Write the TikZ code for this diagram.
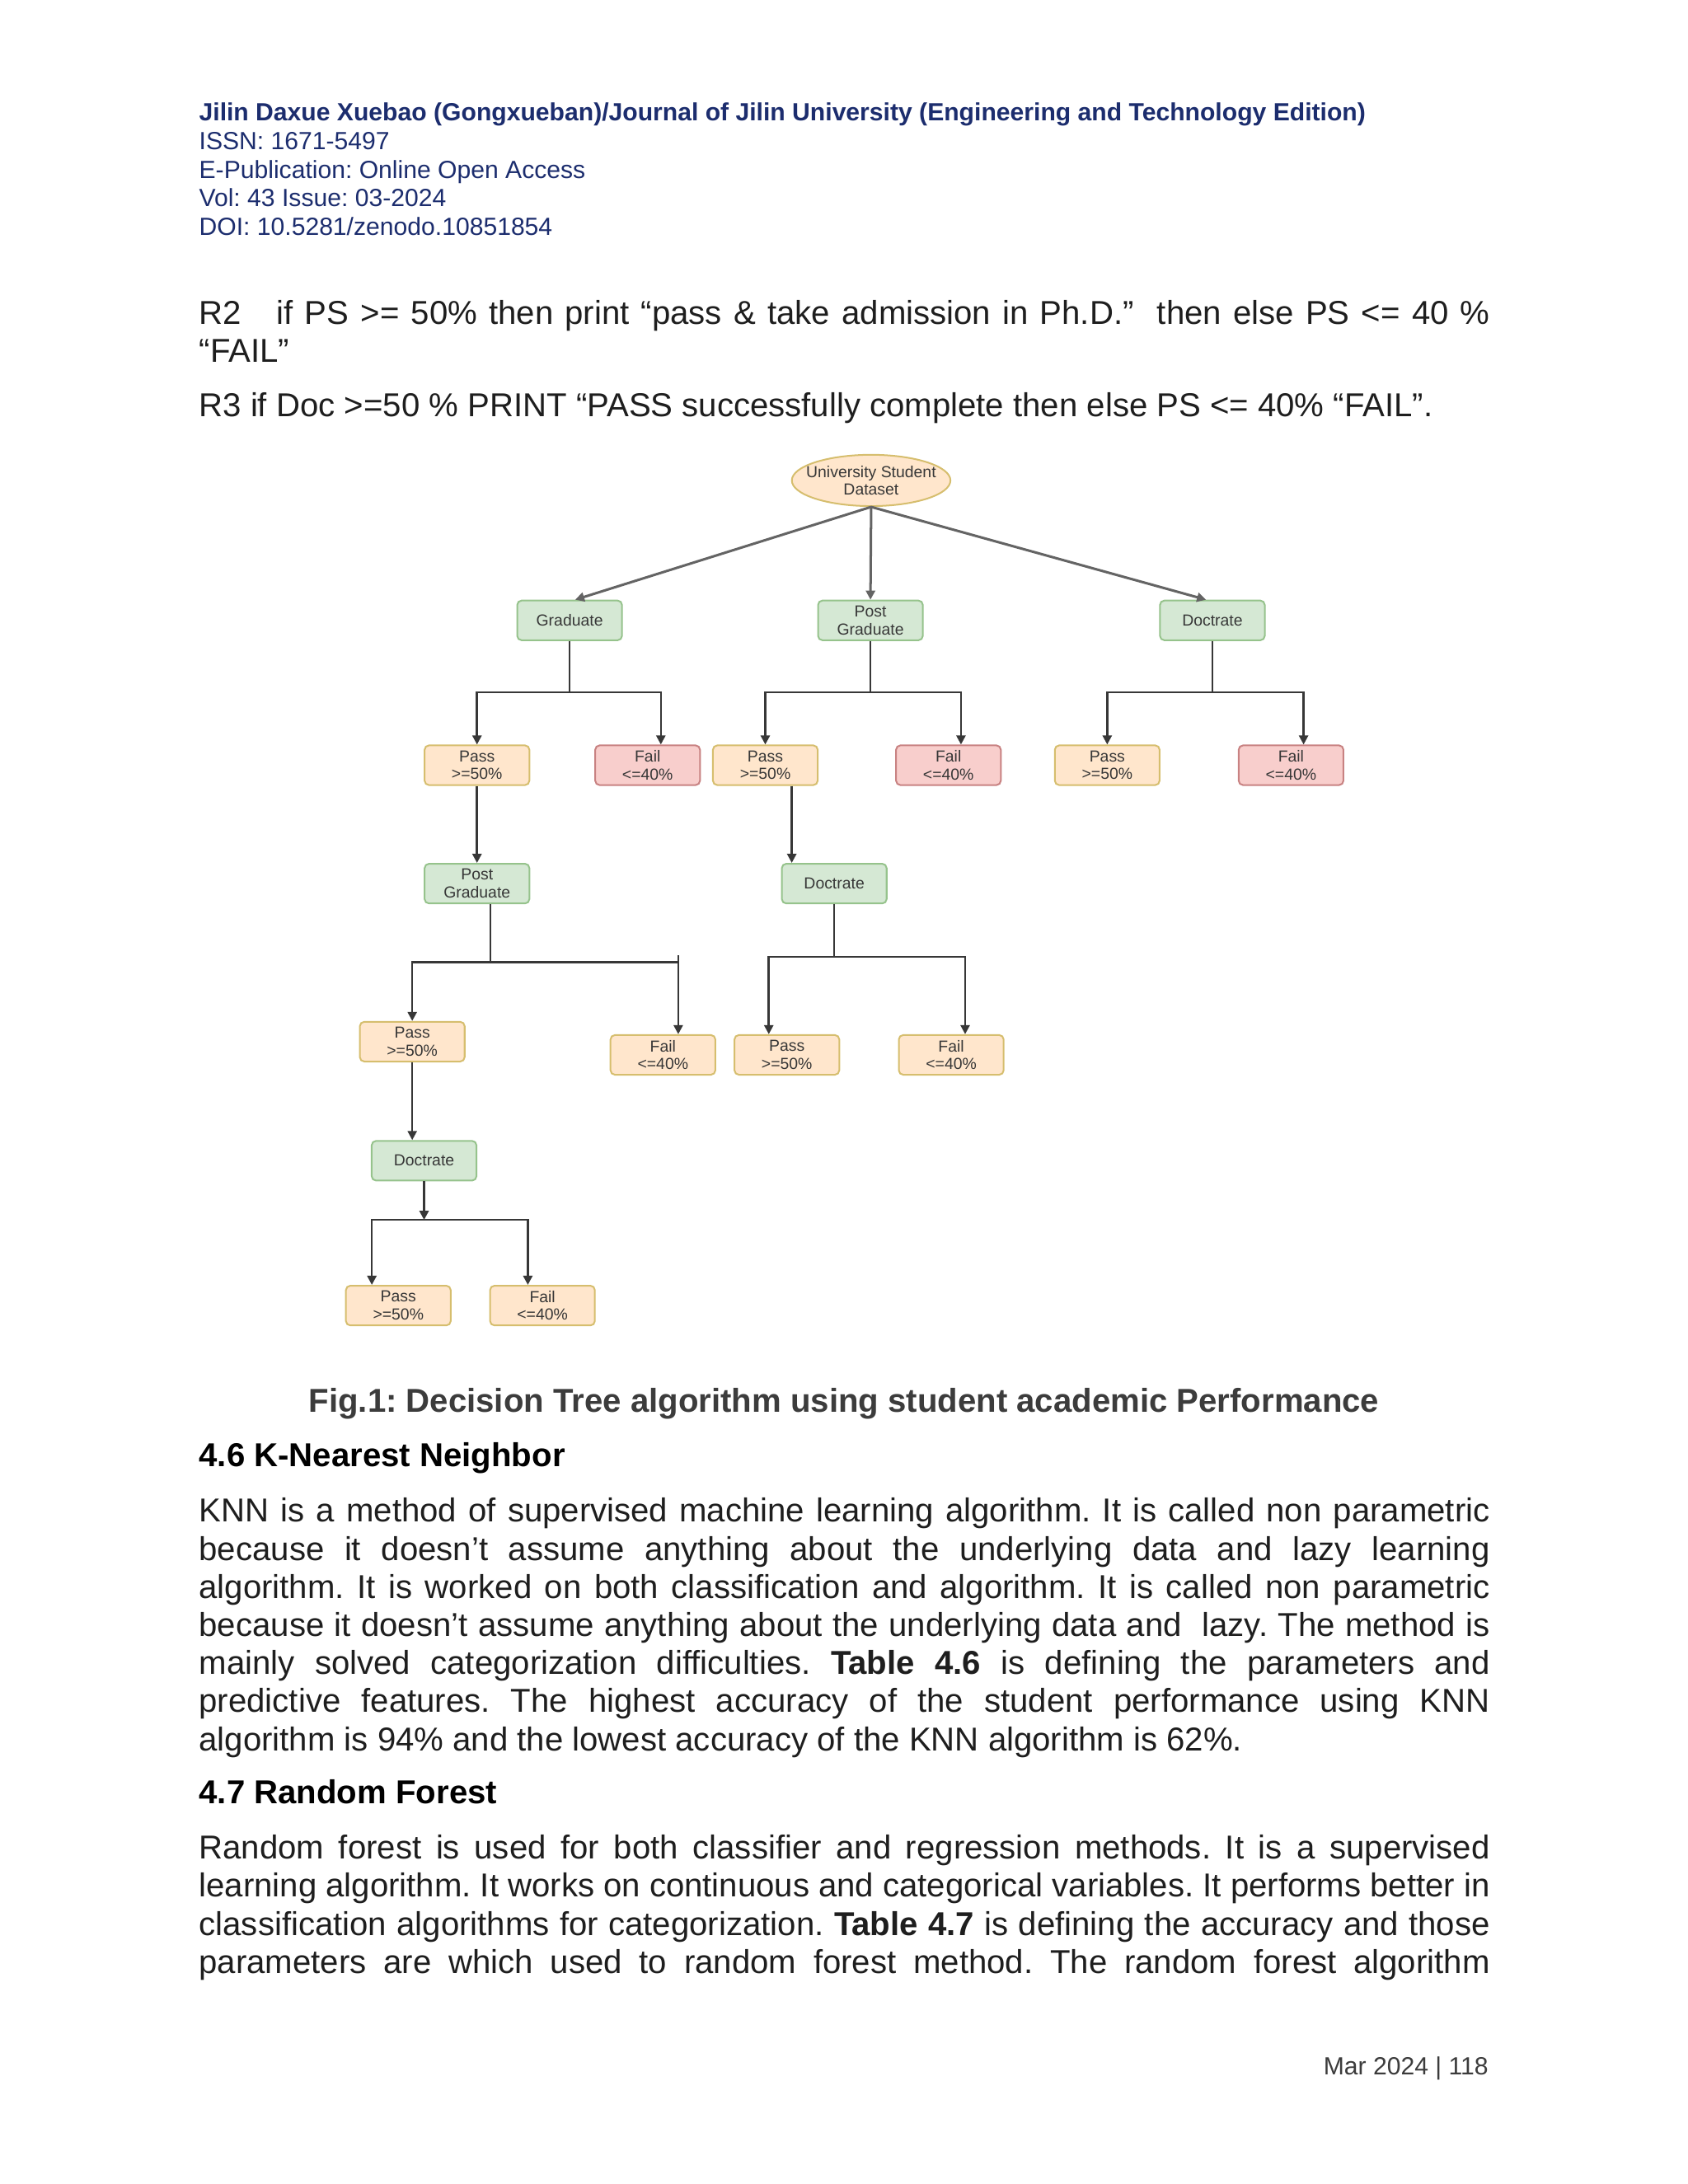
\documentclass[tikz,border=0pt]{standalone}
\usepackage{fontspec}
\setmainfont{Liberation Sans}
\usetikzlibrary{shapes.geometric,arrows.meta,calc}
\frenchspacing
\definecolor{hdr}{RGB}{28,45,110}
\definecolor{bodyc}{RGB}{30,30,30}
\definecolor{capc}{RGB}{60,60,60}
\definecolor{gfill}{RGB}{213,232,212}
\definecolor{gbd}{RGB}{150,195,140}
\definecolor{yfill}{RGB}{255,230,204}
\definecolor{ybd}{RGB}{214,190,110}
\definecolor{rfill}{RGB}{248,206,204}
\definecolor{rbd}{RGB}{200,130,130}
\definecolor{lc}{RGB}{55,55,55}
\definecolor{lc0}{RGB}{100,100,100}
\definecolor{boxtxt}{RGB}{55,55,55}
\newcommand\myHdr{\fontsize{9}{10.35}\selectfont}
\newcommand\myBody{\fontsize{12}{13.8}\selectfont}
\newcommand\myBox{\fontsize{5.8}{6.5}\selectfont}
\tikzset{
  txt/.style={anchor=base west, inner sep=0pt, outer sep=0pt},
  boxbase/.style={rectangle, rounded corners=1.6pt, line width=0.6pt, minimum width=38pt, minimum height=14.4pt, inner sep=0pt, align=center, font=\myBox, text=boxtxt},
  boxg/.style={boxbase, draw=gbd, fill=gfill},
  boxy/.style={boxbase, draw=ybd, fill=yfill},
  boxr/.style={boxbase, draw=rbd, fill=rfill},
  conn/.style={draw=lc, line width=0.75pt},
  arr/.style={conn, -{Triangle[length=3.3pt,width=3.3pt]}},
  arr0/.style={draw=lc0, line width=0.9pt, -{Triangle[length=3.3pt,width=3.3pt]}}
}
\begin{document}
\begin{tikzpicture}[x=0.50495pt,y=-0.50495pt]
\useasboundingbox[fill=white] (0,0) rectangle (1212,1568.3);

% header
\node[txt, font=\myHdr\bfseries, text=hdr] (h1) at (143,87) {Jilin Daxue Xuebao (Gongxueban)/Journal of Jilin University (Engineering and Technology Edition)};
\node[txt, font=\myHdr, text=hdr] (h2) at (143,107.5) {ISSN: 1671-5497};
\node[txt, font=\myHdr, text=hdr] (h3) at (143,128) {E-Publication: Online Open Access};
\node[txt, font=\myHdr, text=hdr] (h4) at (143,148.5) {Vol: 43 Issue: 03-2024};
\node[txt, font=\myHdr, text=hdr] (h5) at (143,169) {DOI: 10.5281/zenodo.10851854};

% rules text
\node[txt, font=\myBody, text=bodyc] (r2a) at (143,233) {\makebox[468pt][s]{R2\ \ \ if PS >= 50\% then print “pass \& take admission in Ph.D.”\ \ then else PS <= 40 \%}};
\node[txt, font=\myBody, text=bodyc] (r2b) at (143,260) {“FAIL”};
\node[txt, font=\myBody, text=bodyc] (r3) at (143,299) {R3 if Doc >=50 \% PRINT “PASS successfully complete then else PS <= 40\% “FAIL”.};

% diagram nodes
\node[ellipse, draw=ybd, fill=yfill, line width=0.6pt, minimum width=57.5pt, minimum height=18.6pt, inner xsep=-8pt, inner ysep=-2pt, align=center, font=\myBox, text=boxtxt] (root) at (625.5,345) {University Student\\Dataset};

\node[boxg] (g1) at (409,445.5) {Graduate};
\node[boxg] (pg1) at (625,445.5) {Post\\Graduate};
\node[boxg] (d1) at (870.5,445.5) {Doctrate};

\node[boxy] (gp) at (342.5,549.5) {Pass\\>=50\%};
\node[boxr] (gf) at (465,549.5) {Fail\\<=40\%};
\node[boxy] (pgp) at (549.5,549.5) {Pass\\>=50\%};
\node[boxr] (pgf) at (681,549.5) {Fail\\<=40\%};
\node[boxy] (dp) at (795,549.5) {Pass\\>=50\%};
\node[boxr] (df) at (927,549.5) {Fail\\<=40\%};

\node[boxg] (pg2) at (342.5,634.5) {Post\\Graduate};
\node[boxg] (d2) at (599,634.5) {Doctrate};

\node[boxy] (p4a) at (296,748) {Pass\\>=50\%};
\node[boxy] (f4a) at (476,757.5) {Fail\\<=40\%};
\node[boxy] (p4b) at (565,757.5) {Pass\\>=50\%};
\node[boxy] (f4b) at (683,757.5) {Fail\\<=40\%};

\node[boxg] (d3) at (304.5,833.5) {Doctrate};

\node[boxy] (p6) at (286,937.5) {Pass\\>=50\%};
\node[boxy] (f6) at (389.5,937.5) {Fail\\<=40\%};

% connectors from root
\draw[arr0] (root.south) -- ($(g1.north)+(4,0)$);
\draw[arr0] (root.south) -- (pg1.north);
\draw[arr0] (root.south) -- ($(d1.north)+(-4.5,0)$);

% graduate
\coordinate (jG) at (409,497);
\draw[conn] (g1.south) -- (jG);
\draw[arr] (jG) -| (gp.north);
\draw[arr] (jG) -| ($(gf.north)+(9.5,0)$);
% post graduate
\coordinate (jPG) at (625,497);
\draw[conn] (pg1.south) -- (jPG);
\draw[arr] (jPG) -| (pgp.north);
\draw[arr] (jPG) -| ($(pgf.north)+(9,0)$);
% doctrate
\coordinate (jD) at (870.5,497);
\draw[conn] (d1.south) -- (jD);
\draw[arr] (jD) -| (dp.north);
\draw[arr] (jD) -| ($(df.north)+(9,0)$);

% level 2 -> level 3
\draw[arr] (gp.south) -- (pg2.north);
\coordinate (c1) at ($(pgp.south)+(19,0)$);
\draw[arr] (c1) -- (c1 |- d2.north);

% post graduate (level 3)
\coordinate (c2) at ($(pg2.south)+(9.5,0)$);
\coordinate (jPG2) at (352,691);
\coordinate (c3) at (487,691);
\draw[conn] (c2) -- (jPG2);
\draw[arr] (jPG2) -| (p4a.north);
\draw[conn] (jPG2) -- (c3);
\draw[arr] (c3) -- (c3 |- f4a.north);
\draw[conn] (c3) -- ++(0,-5);

% doctrate (level 3)
\coordinate (jD2) at (599,687);
\draw[conn] (d2.south) -- (jD2);
\draw[arr] (jD2) -| ($(p4b.north)+(-13,0)$);
\draw[arr] (jD2) -| ($(f4b.north)+(10,0)$);

% level 4 -> doctrate
\draw[arr] (p4a.south) -- (p4a.south |- d3.north);

% doctrate (level 5)
\coordinate (jD3) at (304.5,876);
\draw[arr] (d3.south) -- (jD3);
\draw[arr] (jD3) -| ($(p6.north)+(-19,0)$);
\draw[arr] (jD3) -| ($(f6.north)+(-10.5,0)$);

% caption and text
\node[anchor=base, inner sep=0pt, font=\myBody\bfseries, text=capc] (cap) at (606,1014) {Fig.1: Decision Tree algorithm using student academic Performance};
\node[txt, font=\myBody\bfseries] (s46) at (143,1053) {4.6 K-Nearest Neighbor};

\node[txt, font=\myBody, text=bodyc] (p1a) at (143,1093) {\makebox[468pt][s]{KNN is a method of supervised machine learning algorithm. It is called non parametric}};
\node[txt, font=\myBody, text=bodyc] (p1b) at (143,1120.3) {\makebox[468pt][s]{because it doesn’t assume anything about the underlying data and lazy learning}};
\node[txt, font=\myBody, text=bodyc] (p1c) at (143,1147.7) {\makebox[468pt][s]{algorithm. It is worked on both classification and algorithm. It is called non parametric}};
\node[txt, font=\myBody, text=bodyc] (p1d) at (143,1175) {\makebox[468pt][s]{because it doesn’t assume anything about the underlying data and\ \ lazy. The method is}};
\node[txt, font=\myBody, text=bodyc] (p1e) at (143,1202.3) {\makebox[468pt][s]{mainly solved categorization difficulties. \textbf{Table 4.6} is defining the parameters and}};
\node[txt, font=\myBody, text=bodyc] (p1f) at (143,1229.7) {\makebox[468pt][s]{predictive features. The highest accuracy of the student performance using KNN}};
\node[txt, font=\myBody, text=bodyc] (p1g) at (143,1257) {algorithm is 94\% and the lowest accuracy of the KNN algorithm is 62\%.};

\node[txt, font=\myBody\bfseries] (s47) at (143,1295) {4.7 Random Forest};

\node[txt, font=\myBody, text=bodyc] (p2a) at (143,1335) {\makebox[468pt][s]{Random forest is used for both classifier and regression methods. It is a supervised}};
\node[txt, font=\myBody, text=bodyc] (p2b) at (143,1362.3) {\makebox[468pt][s]{learning algorithm. It works on continuous and categorical variables. It performs better in}};
\node[txt, font=\myBody, text=bodyc] (p2c) at (143,1389.7) {\makebox[468pt][s]{classification algorithms for categorization. \textbf{Table 4.7} is defining the accuracy and those}};
\node[txt, font=\myBody, text=bodyc] (p2d) at (143,1417) {\makebox[468pt][s]{parameters are which used to random forest method. The random forest algorithm}};

% footer
\node[anchor=base east, inner sep=0pt, font=\myHdr, text=capc] (foot) at (1069,1490) {Mar 2024 | 118};
\end{tikzpicture}
\end{document}
